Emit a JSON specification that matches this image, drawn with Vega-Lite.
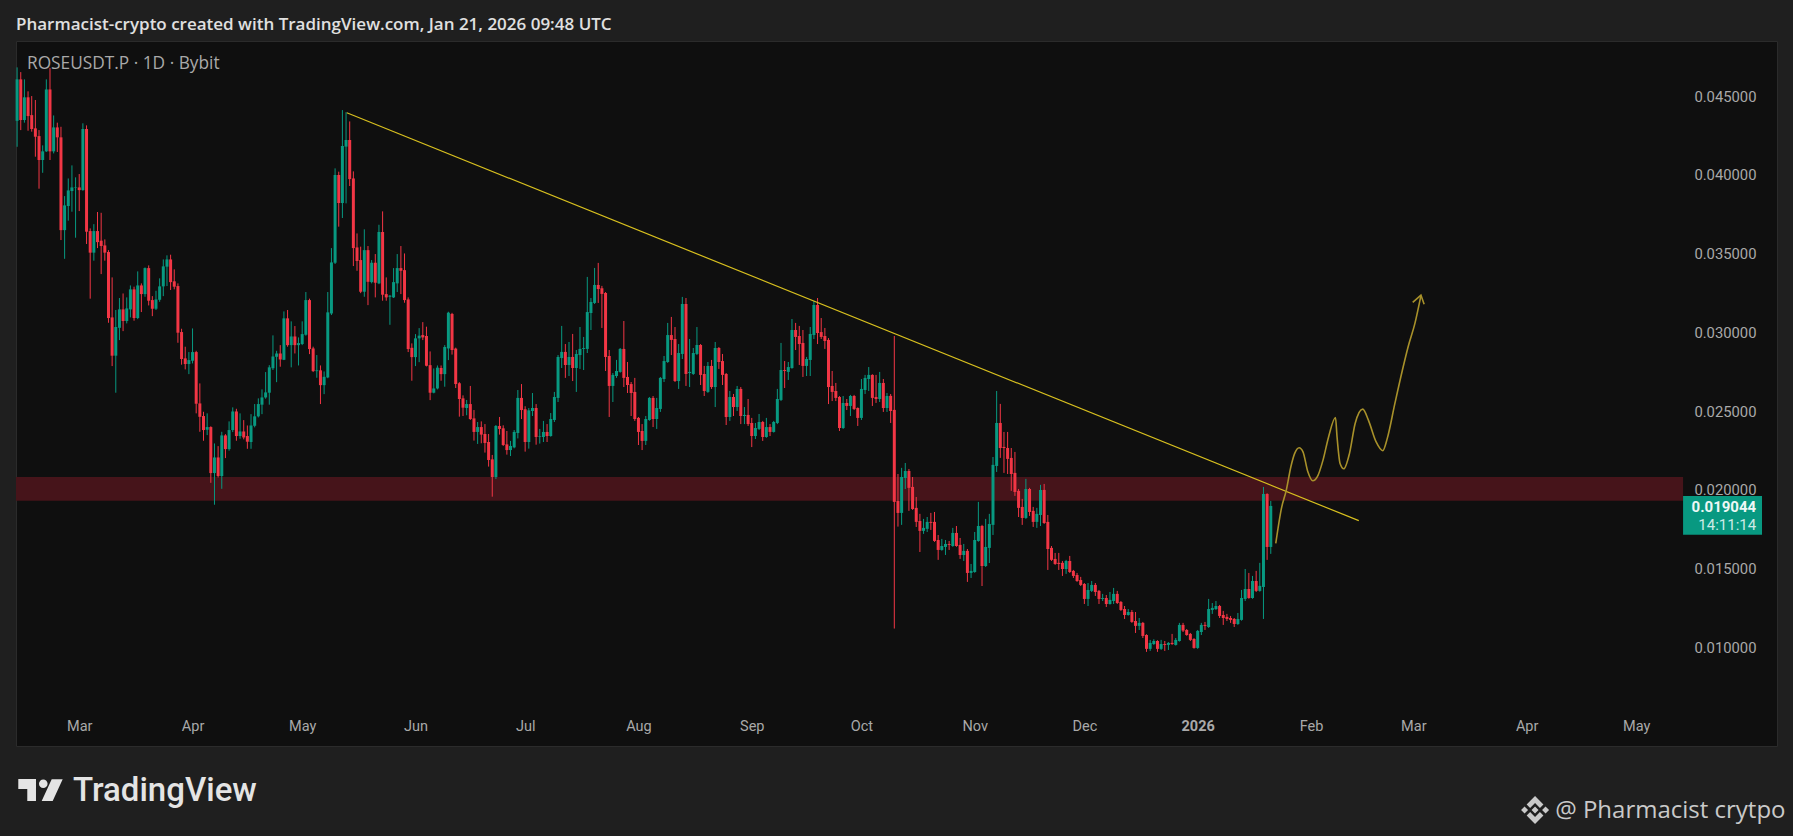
{"$schema":"https://vega.github.io/schema/vega-lite/v6.json","autosize":{"type":"none"},"padding":{"left":16,"top":41,"right":16,"bottom":90},"width":1761,"height":705,"background":"#1f1f1f","view":{"fill":"#0f0f0f","stroke":"#2b2b2b","strokeWidth":1},"title":{"text":"Pharmacist-crypto created with TradingView.com, Jan 21, 2026 09:48 UTC","anchor":"start","frame":"group","font":"Open Sans","fontSize":17,"fontWeight":600,"color":"#e0e0e0","offset":-6,"baseline":"alphabetic"},"datasets":{"candles":[
{"d":"2025-02-12","o":0.04349,"h":0.04688,"l":0.04184,"c":0.04612},
{"d":"2025-02-13","o":0.04612,"h":0.04658,"l":0.0429,"c":0.04354},
{"d":"2025-02-14","o":0.04354,"h":0.04612,"l":0.04337,"c":0.04498},
{"d":"2025-02-15","o":0.04498,"h":0.04536,"l":0.04286,"c":0.04379},
{"d":"2025-02-16","o":0.04385,"h":0.04506,"l":0.0428,"c":0.04297},
{"d":"2025-02-17","o":0.04301,"h":0.04481,"l":0.04121,"c":0.04248},
{"d":"2025-02-18","o":0.04252,"h":0.0429,"l":0.03918,"c":0.041},
{"d":"2025-02-19","o":0.041,"h":0.04193,"l":0.04019,"c":0.04155},
{"d":"2025-02-20","o":0.04155,"h":0.04612,"l":0.04151,"c":0.04548},
{"d":"2025-02-21","o":0.04548,"h":0.04684,"l":0.041,"c":0.04155},
{"d":"2025-02-22","o":0.04155,"h":0.04383,"l":0.04142,"c":0.04307},
{"d":"2025-02-23","o":0.04307,"h":0.04337,"l":0.04151,"c":0.04244},
{"d":"2025-02-24","o":0.04244,"h":0.04311,"l":0.03592,"c":0.03655},
{"d":"2025-02-25","o":0.03655,"h":0.03871,"l":0.03473,"c":0.03812},
{"d":"2025-02-26","o":0.03808,"h":0.03983,"l":0.03715,"c":0.03907},
{"d":"2025-02-27","o":0.03903,"h":0.04066,"l":0.03772,"c":0.03926},
{"d":"2025-02-28","o":0.03923,"h":0.0399,"l":0.03607,"c":0.03926},
{"d":"2025-03-01","o":0.03926,"h":0.04011,"l":0.03776,"c":0.03909},
{"d":"2025-03-02","o":0.03909,"h":0.04333,"l":0.03905,"c":0.04297},
{"d":"2025-03-03","o":0.04297,"h":0.0432,"l":0.03567,"c":0.03645},
{"d":"2025-03-04","o":0.03649,"h":0.03666,"l":0.0322,"c":0.03512},
{"d":"2025-03-05","o":0.03512,"h":0.03693,"l":0.03461,"c":0.03649},
{"d":"2025-03-06","o":0.03649,"h":0.0377,"l":0.03541,"c":0.03579},
{"d":"2025-03-07","o":0.03588,"h":0.03765,"l":0.03376,"c":0.03554},
{"d":"2025-03-08","o":0.03558,"h":0.03596,"l":0.03461,"c":0.03512},
{"d":"2025-03-09","o":0.03516,"h":0.03528,"l":0.03067,"c":0.03097},
{"d":"2025-03-10","o":0.03101,"h":0.03355,"l":0.02792,"c":0.02858},
{"d":"2025-03-11","o":0.02858,"h":0.03148,"l":0.02623,"c":0.0304},
{"d":"2025-03-12","o":0.03035,"h":0.03224,"l":0.02957,"c":0.03152},
{"d":"2025-03-13","o":0.03152,"h":0.03253,"l":0.03014,"c":0.03078},
{"d":"2025-03-14","o":0.03078,"h":0.03228,"l":0.03063,"c":0.03158},
{"d":"2025-03-15","o":0.03152,"h":0.03304,"l":0.03101,"c":0.03279},
{"d":"2025-03-16","o":0.03279,"h":0.03296,"l":0.0308,"c":0.03097},
{"d":"2025-03-17","o":0.03097,"h":0.03393,"l":0.0309,"c":0.03304},
{"d":"2025-03-18","o":0.03304,"h":0.03317,"l":0.03135,"c":0.03249},
{"d":"2025-03-19","o":0.03249,"h":0.03418,"l":0.03232,"c":0.03414},
{"d":"2025-03-20","o":0.03414,"h":0.03431,"l":0.03177,"c":0.03207},
{"d":"2025-03-21","o":0.03211,"h":0.03236,"l":0.03109,"c":0.03156},
{"d":"2025-03-22","o":0.03156,"h":0.0327,"l":0.03148,"c":0.03215},
{"d":"2025-03-23","o":0.03213,"h":0.03349,"l":0.032,"c":0.03298},
{"d":"2025-03-24","o":0.03298,"h":0.03469,"l":0.03236,"c":0.03425},
{"d":"2025-03-25","o":0.03423,"h":0.03495,"l":0.033,"c":0.03469},
{"d":"2025-03-26","o":0.03469,"h":0.03499,"l":0.03275,"c":0.03325},
{"d":"2025-03-27","o":0.0333,"h":0.03406,"l":0.03279,"c":0.03296},
{"d":"2025-03-28","o":0.033,"h":0.03317,"l":0.0294,"c":0.03004},
{"d":"2025-03-29","o":0.03008,"h":0.03029,"l":0.02801,"c":0.02837},
{"d":"2025-03-30","o":0.02841,"h":0.02915,"l":0.02771,"c":0.02805},
{"d":"2025-03-31","o":0.02805,"h":0.02881,"l":0.02741,"c":0.0283},
{"d":"2025-04-01","o":0.02826,"h":0.03031,"l":0.02809,"c":0.02881},
{"d":"2025-04-02","o":0.02881,"h":0.02889,"l":0.02492,"c":0.02553},
{"d":"2025-04-03","o":0.02555,"h":0.02682,"l":0.02375,"c":0.0247},
{"d":"2025-04-04","o":0.02475,"h":0.02502,"l":0.02318,"c":0.02386},
{"d":"2025-04-05","o":0.02388,"h":0.02492,"l":0.02354,"c":0.02405},
{"d":"2025-04-06","o":0.02405,"h":0.0241,"l":0.02051,"c":0.02113},
{"d":"2025-04-07","o":0.02113,"h":0.02301,"l":0.01912,"c":0.02212},
{"d":"2025-04-08","o":0.02212,"h":0.02284,"l":0.02085,"c":0.02094},
{"d":"2025-04-09","o":0.02094,"h":0.02375,"l":0.02013,"c":0.02352},
{"d":"2025-04-10","o":0.02352,"h":0.0236,"l":0.02208,"c":0.02265},
{"d":"2025-04-11","o":0.02265,"h":0.02441,"l":0.02255,"c":0.02386},
{"d":"2025-04-12","o":0.02386,"h":0.0253,"l":0.02373,"c":0.02504},
{"d":"2025-04-13","o":0.02504,"h":0.02521,"l":0.02318,"c":0.02348},
{"d":"2025-04-14","o":0.02348,"h":0.02492,"l":0.02331,"c":0.02377},
{"d":"2025-04-15","o":0.02377,"h":0.02449,"l":0.02327,"c":0.02339},
{"d":"2025-04-16","o":0.02348,"h":0.02415,"l":0.02267,"c":0.02312},
{"d":"2025-04-17","o":0.0231,"h":0.02487,"l":0.02267,"c":0.02415},
{"d":"2025-04-18","o":0.02413,"h":0.02551,"l":0.02403,"c":0.02473},
{"d":"2025-04-19","o":0.02473,"h":0.02587,"l":0.02466,"c":0.02551},
{"d":"2025-04-20","o":0.02547,"h":0.02644,"l":0.02487,"c":0.02593},
{"d":"2025-04-21","o":0.02593,"h":0.02754,"l":0.02585,"c":0.02625},
{"d":"2025-04-22","o":0.02623,"h":0.02798,"l":0.02547,"c":0.02784},
{"d":"2025-04-23","o":0.02779,"h":0.02987,"l":0.02767,"c":0.02853},
{"d":"2025-04-24","o":0.02851,"h":0.02889,"l":0.0269,"c":0.02872},
{"d":"2025-04-25","o":0.02872,"h":0.02925,"l":0.02788,"c":0.02834},
{"d":"2025-04-26","o":0.02832,"h":0.03139,"l":0.0283,"c":0.03095},
{"d":"2025-04-27","o":0.03095,"h":0.03148,"l":0.02915,"c":0.02925},
{"d":"2025-04-28","o":0.02925,"h":0.03076,"l":0.02784,"c":0.0298},
{"d":"2025-04-29","o":0.0298,"h":0.03046,"l":0.02872,"c":0.02925},
{"d":"2025-04-30","o":0.02925,"h":0.02974,"l":0.02796,"c":0.02938},
{"d":"2025-05-01","o":0.02932,"h":0.03076,"l":0.02925,"c":0.02995},
{"d":"2025-05-02","o":0.02991,"h":0.03262,"l":0.02985,"c":0.03211},
{"d":"2025-05-03","o":0.03211,"h":0.0322,"l":0.02868,"c":0.029},
{"d":"2025-05-04","o":0.02904,"h":0.02915,"l":0.02754,"c":0.0276},
{"d":"2025-05-05","o":0.0276,"h":0.02862,"l":0.02718,"c":0.02765},
{"d":"2025-05-06","o":0.02765,"h":0.02796,"l":0.02551,"c":0.02671},
{"d":"2025-05-07","o":0.02671,"h":0.02758,"l":0.02614,"c":0.02724},
{"d":"2025-05-08","o":0.0272,"h":0.03262,"l":0.02715,"c":0.03133},
{"d":"2025-05-09","o":0.03126,"h":0.03541,"l":0.03116,"c":0.0345},
{"d":"2025-05-10","o":0.03448,"h":0.04047,"l":0.0344,"c":0.04005},
{"d":"2025-05-11","o":0.04005,"h":0.04026,"l":0.03677,"c":0.03827},
{"d":"2025-05-12","o":0.03827,"h":0.04417,"l":0.03732,"c":0.04189},
{"d":"2025-05-13","o":0.04185,"h":0.04404,"l":0.03825,"c":0.04227},
{"d":"2025-05-14","o":0.04227,"h":0.04345,"l":0.03935,"c":0.03979},
{"d":"2025-05-15","o":0.03983,"h":0.04028,"l":0.03427,"c":0.03541},
{"d":"2025-05-16","o":0.03545,"h":0.03634,"l":0.03397,"c":0.03459},
{"d":"2025-05-17","o":0.03465,"h":0.0355,"l":0.03255,"c":0.03264},
{"d":"2025-05-18","o":0.03264,"h":0.0366,"l":0.03232,"c":0.03528},
{"d":"2025-05-19","o":0.03528,"h":0.03554,"l":0.03179,"c":0.03327},
{"d":"2025-05-20","o":0.03325,"h":0.03465,"l":0.03317,"c":0.03448},
{"d":"2025-05-21","o":0.03448,"h":0.03503,"l":0.03228,"c":0.03321},
{"d":"2025-05-22","o":0.03317,"h":0.03689,"l":0.03312,"c":0.03643},
{"d":"2025-05-23","o":0.03643,"h":0.03774,"l":0.03207,"c":0.03245},
{"d":"2025-05-24","o":0.03249,"h":0.03355,"l":0.03207,"c":0.03228},
{"d":"2025-05-25","o":0.03232,"h":0.03243,"l":0.03054,"c":0.03239},
{"d":"2025-05-26","o":0.03228,"h":0.03414,"l":0.03224,"c":0.03325},
{"d":"2025-05-27","o":0.03317,"h":0.03503,"l":0.03262,"c":0.03414},
{"d":"2025-05-28","o":0.03414,"h":0.03554,"l":0.03249,"c":0.03397},
{"d":"2025-05-29","o":0.03401,"h":0.03507,"l":0.03194,"c":0.03211},
{"d":"2025-05-30","o":0.03215,"h":0.03228,"l":0.02881,"c":0.029},
{"d":"2025-05-31","o":0.02908,"h":0.02936,"l":0.02699,"c":0.02849},
{"d":"2025-06-01","o":0.02849,"h":0.02995,"l":0.02792,"c":0.02968},
{"d":"2025-06-02","o":0.02968,"h":0.03033,"l":0.02817,"c":0.02985},
{"d":"2025-06-03","o":0.02989,"h":0.03071,"l":0.02957,"c":0.02974},
{"d":"2025-06-04","o":0.02983,"h":0.03042,"l":0.0279,"c":0.02794},
{"d":"2025-06-05","o":0.02798,"h":0.02885,"l":0.02576,"c":0.02623},
{"d":"2025-06-06","o":0.02623,"h":0.02777,"l":0.02619,"c":0.0265},
{"d":"2025-06-07","o":0.0265,"h":0.02796,"l":0.02644,"c":0.02782},
{"d":"2025-06-08","o":0.0278,"h":0.02796,"l":0.02699,"c":0.02741},
{"d":"2025-06-09","o":0.02741,"h":0.02925,"l":0.02661,"c":0.02913},
{"d":"2025-06-10","o":0.02904,"h":0.03137,"l":0.0283,"c":0.03131},
{"d":"2025-06-11","o":0.03123,"h":0.0313,"l":0.02865,"c":0.02894},
{"d":"2025-06-12","o":0.02903,"h":0.02909,"l":0.02653,"c":0.02678},
{"d":"2025-06-13","o":0.02683,"h":0.0269,"l":0.02471,"c":0.02583},
{"d":"2025-06-14","o":0.02587,"h":0.02606,"l":0.02475,"c":0.02528},
{"d":"2025-06-15","o":0.02526,"h":0.02577,"l":0.0248,"c":0.02551},
{"d":"2025-06-16","o":0.02551,"h":0.02666,"l":0.0245,"c":0.02456},
{"d":"2025-06-17","o":0.0246,"h":0.02513,"l":0.02319,"c":0.02374},
{"d":"2025-06-18","o":0.02374,"h":0.02437,"l":0.02298,"c":0.02405},
{"d":"2025-06-19","o":0.02405,"h":0.02441,"l":0.02302,"c":0.02357},
{"d":"2025-06-20","o":0.02361,"h":0.02424,"l":0.02243,"c":0.02304},
{"d":"2025-06-21","o":0.0231,"h":0.02361,"l":0.02154,"c":0.02196},
{"d":"2025-06-22","o":0.022,"h":0.02228,"l":0.01963,"c":0.02088},
{"d":"2025-06-23","o":0.02088,"h":0.02418,"l":0.02075,"c":0.02412},
{"d":"2025-06-24","o":0.02412,"h":0.02469,"l":0.02357,"c":0.02393},
{"d":"2025-06-25","o":0.02397,"h":0.02416,"l":0.02285,"c":0.02291},
{"d":"2025-06-26","o":0.02295,"h":0.0238,"l":0.0223,"c":0.02259},
{"d":"2025-06-27","o":0.02259,"h":0.02317,"l":0.02221,"c":0.02285},
{"d":"2025-06-28","o":0.02276,"h":0.02386,"l":0.0227,"c":0.02374},
{"d":"2025-06-29","o":0.02367,"h":0.0264,"l":0.02333,"c":0.0259},
{"d":"2025-06-30","o":0.0259,"h":0.02678,"l":0.02456,"c":0.02513},
{"d":"2025-07-01","o":0.02518,"h":0.02537,"l":0.02249,"c":0.0231},
{"d":"2025-07-02","o":0.0231,"h":0.02526,"l":0.02268,"c":0.02511},
{"d":"2025-07-03","o":0.02507,"h":0.02621,"l":0.02475,"c":0.02526},
{"d":"2025-07-04","o":0.02526,"h":0.02551,"l":0.02293,"c":0.02342},
{"d":"2025-07-05","o":0.02344,"h":0.02393,"l":0.023,"c":0.02348},
{"d":"2025-07-06","o":0.02342,"h":0.02444,"l":0.0231,"c":0.02374},
{"d":"2025-07-07","o":0.02374,"h":0.02424,"l":0.0231,"c":0.02348},
{"d":"2025-07-08","o":0.02348,"h":0.02494,"l":0.02344,"c":0.02456},
{"d":"2025-07-09","o":0.0245,"h":0.02628,"l":0.02437,"c":0.02596},
{"d":"2025-07-10","o":0.0259,"h":0.02862,"l":0.02564,"c":0.0285},
{"d":"2025-07-11","o":0.02843,"h":0.03047,"l":0.0278,"c":0.02882},
{"d":"2025-07-12","o":0.02882,"h":0.02932,"l":0.02717,"c":0.02799},
{"d":"2025-07-13","o":0.02799,"h":0.02945,"l":0.02729,"c":0.0285},
{"d":"2025-07-14","o":0.0285,"h":0.02996,"l":0.02697,"c":0.0278},
{"d":"2025-07-15","o":0.0278,"h":0.02894,"l":0.02628,"c":0.02869},
{"d":"2025-07-16","o":0.02862,"h":0.0304,"l":0.02774,"c":0.02901},
{"d":"2025-07-17","o":0.02901,"h":0.02977,"l":0.02767,"c":0.02907},
{"d":"2025-07-18","o":0.02901,"h":0.03358,"l":0.02875,"c":0.03135},
{"d":"2025-07-19","o":0.03129,"h":0.03224,"l":0.03021,"c":0.03199},
{"d":"2025-07-20","o":0.03193,"h":0.03415,"l":0.03186,"c":0.03307},
{"d":"2025-07-21","o":0.03307,"h":0.03447,"l":0.03193,"c":0.03281},
{"d":"2025-07-22","o":0.03286,"h":0.03301,"l":0.03034,"c":0.0325},
{"d":"2025-07-23","o":0.03256,"h":0.03262,"l":0.02761,"c":0.0285},
{"d":"2025-07-24","o":0.02856,"h":0.02894,"l":0.02469,"c":0.02666},
{"d":"2025-07-25","o":0.02666,"h":0.02748,"l":0.02564,"c":0.02736},
{"d":"2025-07-26","o":0.02729,"h":0.02831,"l":0.02717,"c":0.02761},
{"d":"2025-07-27","o":0.02755,"h":0.02907,"l":0.0275,"c":0.02901},
{"d":"2025-07-28","o":0.02901,"h":0.03078,"l":0.02659,"c":0.02717},
{"d":"2025-07-29","o":0.02723,"h":0.02818,"l":0.02621,"c":0.02672},
{"d":"2025-07-30","o":0.02678,"h":0.02691,"l":0.02475,"c":0.02621},
{"d":"2025-07-31","o":0.02628,"h":0.02717,"l":0.02444,"c":0.02456},
{"d":"2025-08-01","o":0.02463,"h":0.02469,"l":0.02291,"c":0.02374},
{"d":"2025-08-02","o":0.0238,"h":0.02424,"l":0.02259,"c":0.02317},
{"d":"2025-08-03","o":0.02317,"h":0.02475,"l":0.02291,"c":0.02456},
{"d":"2025-08-04","o":0.0245,"h":0.02596,"l":0.02445,"c":0.0259},
{"d":"2025-08-05","o":0.0259,"h":0.02602,"l":0.02405,"c":0.02456},
{"d":"2025-08-06","o":0.02456,"h":0.0259,"l":0.02393,"c":0.02526},
{"d":"2025-08-07","o":0.0252,"h":0.02723,"l":0.02501,"c":0.02717},
{"d":"2025-08-08","o":0.0271,"h":0.02856,"l":0.02691,"c":0.02824},
{"d":"2025-08-09","o":0.02818,"h":0.03066,"l":0.02812,"c":0.02989},
{"d":"2025-08-10","o":0.02989,"h":0.03104,"l":0.02862,"c":0.02958},
{"d":"2025-08-11","o":0.02964,"h":0.0304,"l":0.02691,"c":0.02697},
{"d":"2025-08-12","o":0.02697,"h":0.02932,"l":0.02647,"c":0.02875},
{"d":"2025-08-13","o":0.02869,"h":0.03231,"l":0.02837,"c":0.03186},
{"d":"2025-08-14","o":0.03186,"h":0.03224,"l":0.02666,"c":0.02742},
{"d":"2025-08-15","o":0.02748,"h":0.02964,"l":0.02659,"c":0.02755},
{"d":"2025-08-16","o":0.02742,"h":0.02907,"l":0.02736,"c":0.02875},
{"d":"2025-08-17","o":0.02869,"h":0.0304,"l":0.02862,"c":0.02926},
{"d":"2025-08-18","o":0.02926,"h":0.02932,"l":0.02672,"c":0.02736},
{"d":"2025-08-19","o":0.02742,"h":0.02793,"l":0.02602,"c":0.02634},
{"d":"2025-08-20","o":0.02628,"h":0.02818,"l":0.02622,"c":0.02793},
{"d":"2025-08-21","o":0.02793,"h":0.02831,"l":0.02647,"c":0.02659},
{"d":"2025-08-22","o":0.02659,"h":0.02945,"l":0.02532,"c":0.02907},
{"d":"2025-08-23","o":0.02907,"h":0.02913,"l":0.02774,"c":0.02818},
{"d":"2025-08-24","o":0.02824,"h":0.02869,"l":0.02672,"c":0.02736},
{"d":"2025-08-25","o":0.02742,"h":0.02748,"l":0.02418,"c":0.02469},
{"d":"2025-08-26","o":0.02469,"h":0.02634,"l":0.02444,"c":0.02596},
{"d":"2025-08-27","o":0.02596,"h":0.02615,"l":0.02475,"c":0.02532},
{"d":"2025-08-28","o":0.02532,"h":0.02666,"l":0.02507,"c":0.02647},
{"d":"2025-08-29","o":0.02647,"h":0.02659,"l":0.02424,"c":0.02475},
{"d":"2025-08-30","o":0.02475,"h":0.02532,"l":0.02424,"c":0.02482},
{"d":"2025-08-31","o":0.02482,"h":0.02583,"l":0.02412,"c":0.02424},
{"d":"2025-09-01","o":0.02431,"h":0.02463,"l":0.02278,"c":0.02348},
{"d":"2025-09-02","o":0.02348,"h":0.02431,"l":0.02329,"c":0.02399},
{"d":"2025-09-03","o":0.02393,"h":0.02488,"l":0.02386,"c":0.02437},
{"d":"2025-09-04","o":0.02437,"h":0.02444,"l":0.02317,"c":0.02342},
{"d":"2025-09-05","o":0.02342,"h":0.02463,"l":0.02337,"c":0.02405},
{"d":"2025-09-06","o":0.02405,"h":0.02424,"l":0.02348,"c":0.02374},
{"d":"2025-09-07","o":0.02374,"h":0.02444,"l":0.0237,"c":0.02437},
{"d":"2025-09-08","o":0.02431,"h":0.02647,"l":0.02424,"c":0.02583},
{"d":"2025-09-09","o":0.02577,"h":0.02939,"l":0.0257,"c":0.02767},
{"d":"2025-09-10","o":0.02767,"h":0.02824,"l":0.02653,"c":0.02761},
{"d":"2025-09-11","o":0.02755,"h":0.02818,"l":0.02704,"c":0.02786},
{"d":"2025-09-12","o":0.0278,"h":0.03091,"l":0.02775,"c":0.03021},
{"d":"2025-09-13","o":0.03021,"h":0.03066,"l":0.02894,"c":0.02977},
{"d":"2025-09-14","o":0.02983,"h":0.03047,"l":0.02799,"c":0.02932},
{"d":"2025-09-15","o":0.02939,"h":0.03021,"l":0.02723,"c":0.02793},
{"d":"2025-09-16","o":0.02793,"h":0.0285,"l":0.02729,"c":0.02837},
{"d":"2025-09-17","o":0.02831,"h":0.0304,"l":0.02729,"c":0.02996},
{"d":"2025-09-18","o":0.02989,"h":0.03205,"l":0.02964,"c":0.0318},
{"d":"2025-09-19","o":0.0318,"h":0.03224,"l":0.02932,"c":0.03002},
{"d":"2025-09-20","o":0.03008,"h":0.03097,"l":0.02964,"c":0.02977},
{"d":"2025-09-21","o":0.02983,"h":0.03034,"l":0.02901,"c":0.02951},
{"d":"2025-09-22","o":0.02958,"h":0.0297,"l":0.02551,"c":0.02659},
{"d":"2025-09-23","o":0.02666,"h":0.02761,"l":0.0257,"c":0.02628},
{"d":"2025-09-24","o":0.02634,"h":0.02685,"l":0.0257,"c":0.0259},
{"d":"2025-09-25","o":0.02596,"h":0.02602,"l":0.0238,"c":0.02399},
{"d":"2025-09-26","o":0.02399,"h":0.02602,"l":0.02393,"c":0.02558},
{"d":"2025-09-27","o":0.02558,"h":0.02583,"l":0.02513,"c":0.02539},
{"d":"2025-09-28","o":0.02539,"h":0.02609,"l":0.02475,"c":0.02602},
{"d":"2025-09-29","o":0.02602,"h":0.02609,"l":0.02513,"c":0.0252},
{"d":"2025-09-30","o":0.02526,"h":0.0253,"l":0.02412,"c":0.02463},
{"d":"2025-10-01","o":0.02463,"h":0.0271,"l":0.0245,"c":0.02647},
{"d":"2025-10-02","o":0.0264,"h":0.02736,"l":0.02615,"c":0.02717},
{"d":"2025-10-03","o":0.0271,"h":0.02786,"l":0.02634,"c":0.02736},
{"d":"2025-10-04","o":0.02736,"h":0.0274,"l":0.02539,"c":0.0259},
{"d":"2025-10-05","o":0.02596,"h":0.02736,"l":0.02558,"c":0.02583},
{"d":"2025-10-06","o":0.02583,"h":0.02755,"l":0.02564,"c":0.02685},
{"d":"2025-10-07","o":0.02685,"h":0.0271,"l":0.02501,"c":0.02526},
{"d":"2025-10-08","o":0.02526,"h":0.02621,"l":0.02501,"c":0.02602},
{"d":"2025-10-09","o":0.02603,"h":0.02615,"l":0.02431,"c":0.02507},
{"d":"2025-10-10","o":0.02514,"h":0.02983,"l":0.01126,"c":0.0193},
{"d":"2025-10-11","o":0.01936,"h":0.02107,"l":0.01773,"c":0.0186},
{"d":"2025-10-12","o":0.0186,"h":0.02146,"l":0.01784,"c":0.02088},
{"d":"2025-10-13","o":0.02082,"h":0.02177,"l":0.02012,"c":0.02126},
{"d":"2025-10-14","o":0.02126,"h":0.02139,"l":0.01873,"c":0.02019},
{"d":"2025-10-15","o":0.02025,"h":0.02088,"l":0.01879,"c":0.01885},
{"d":"2025-10-16","o":0.01892,"h":0.01961,"l":0.01771,"c":0.01803},
{"d":"2025-10-17","o":0.01809,"h":0.01854,"l":0.01612,"c":0.01746},
{"d":"2025-10-18","o":0.01746,"h":0.01822,"l":0.01727,"c":0.01765},
{"d":"2025-10-19","o":0.01759,"h":0.01834,"l":0.01739,"c":0.01803},
{"d":"2025-10-20","o":0.01803,"h":0.0186,"l":0.01752,"c":0.01797},
{"d":"2025-10-21","o":0.01803,"h":0.01866,"l":0.01676,"c":0.01682},
{"d":"2025-10-22","o":0.01688,"h":0.0172,"l":0.01562,"c":0.01625},
{"d":"2025-10-23","o":0.01625,"h":0.01695,"l":0.0162,"c":0.0165},
{"d":"2025-10-24","o":0.01644,"h":0.01688,"l":0.01593,"c":0.01663},
{"d":"2025-10-25","o":0.01663,"h":0.01682,"l":0.01625,"c":0.01657},
{"d":"2025-10-26","o":0.0165,"h":0.01765,"l":0.01645,"c":0.01733},
{"d":"2025-10-27","o":0.01733,"h":0.01777,"l":0.01645,"c":0.0165},
{"d":"2025-10-28","o":0.01657,"h":0.01701,"l":0.01568,"c":0.01593},
{"d":"2025-10-29","o":0.01593,"h":0.01663,"l":0.01555,"c":0.01619},
{"d":"2025-10-30","o":0.01619,"h":0.01631,"l":0.01422,"c":0.01479},
{"d":"2025-10-31","o":0.01479,"h":0.01536,"l":0.01447,"c":0.01492},
{"d":"2025-11-01","o":0.01485,"h":0.01739,"l":0.0148,"c":0.01688},
{"d":"2025-11-02","o":0.01682,"h":0.0193,"l":0.01677,"c":0.01777},
{"d":"2025-11-03","o":0.01777,"h":0.01784,"l":0.01396,"c":0.01523},
{"d":"2025-11-04","o":0.01523,"h":0.01822,"l":0.01517,"c":0.01644},
{"d":"2025-11-05","o":0.01638,"h":0.01854,"l":0.01542,"c":0.0179},
{"d":"2025-11-06","o":0.01784,"h":0.02215,"l":0.0172,"c":0.02165},
{"d":"2025-11-07","o":0.02158,"h":0.02634,"l":0.0212,"c":0.02431},
{"d":"2025-11-08","o":0.02431,"h":0.02552,"l":0.02209,"c":0.02272},
{"d":"2025-11-09","o":0.02279,"h":0.02374,"l":0.02114,"c":0.02272},
{"d":"2025-11-10","o":0.02272,"h":0.02374,"l":0.02107,"c":0.02203},
{"d":"2025-11-11","o":0.02209,"h":0.02272,"l":0.02,"c":0.02107},
{"d":"2025-11-12","o":0.02114,"h":0.02247,"l":0.01968,"c":0.01993},
{"d":"2025-11-13","o":0.02,"h":0.02012,"l":0.01834,"c":0.01892},
{"d":"2025-11-14","o":0.01898,"h":0.01949,"l":0.01784,"c":0.01828},
{"d":"2025-11-15","o":0.01828,"h":0.02076,"l":0.01822,"c":0.02012},
{"d":"2025-11-16","o":0.02012,"h":0.02019,"l":0.01841,"c":0.01866},
{"d":"2025-11-17","o":0.01873,"h":0.01898,"l":0.01771,"c":0.01803},
{"d":"2025-11-18","o":0.01803,"h":0.01892,"l":0.01765,"c":0.01854},
{"d":"2025-11-19","o":0.01847,"h":0.02038,"l":0.01777,"c":0.02006},
{"d":"2025-11-20","o":0.02006,"h":0.02044,"l":0.0179,"c":0.01796},
{"d":"2025-11-21","o":0.01803,"h":0.01847,"l":0.01498,"c":0.01631},
{"d":"2025-11-22","o":0.01638,"h":0.0165,"l":0.01555,"c":0.01562},
{"d":"2025-11-23","o":0.01568,"h":0.01606,"l":0.0153,"c":0.01536},
{"d":"2025-11-24","o":0.01543,"h":0.01606,"l":0.01498,"c":0.01536},
{"d":"2025-11-25","o":0.01543,"h":0.01555,"l":0.0146,"c":0.01504},
{"d":"2025-11-26","o":0.01504,"h":0.01562,"l":0.01473,"c":0.01555},
{"d":"2025-11-27","o":0.01555,"h":0.01587,"l":0.01479,"c":0.01485},
{"d":"2025-11-28","o":0.01492,"h":0.01498,"l":0.01447,"c":0.0146},
{"d":"2025-11-29","o":0.01466,"h":0.01479,"l":0.01422,"c":0.01428},
{"d":"2025-11-30","o":0.01434,"h":0.01454,"l":0.01396,"c":0.01403},
{"d":"2025-12-01","o":0.01409,"h":0.01415,"l":0.01282,"c":0.01314},
{"d":"2025-12-02","o":0.01314,"h":0.01415,"l":0.01269,"c":0.01371},
{"d":"2025-12-03","o":0.01365,"h":0.01428,"l":0.01358,"c":0.01403},
{"d":"2025-12-04","o":0.01403,"h":0.01415,"l":0.01333,"c":0.01358},
{"d":"2025-12-05","o":0.01365,"h":0.01371,"l":0.01282,"c":0.01314},
{"d":"2025-12-06","o":0.01314,"h":0.01346,"l":0.01301,"c":0.0132},
{"d":"2025-12-07","o":0.0132,"h":0.01339,"l":0.01263,"c":0.01282},
{"d":"2025-12-08","o":0.01282,"h":0.01358,"l":0.01278,"c":0.01308},
{"d":"2025-12-09","o":0.01301,"h":0.01384,"l":0.01282,"c":0.01346},
{"d":"2025-12-10","o":0.01346,"h":0.01365,"l":0.01282,"c":0.01288},
{"d":"2025-12-11","o":0.01295,"h":0.01301,"l":0.01238,"c":0.01244},
{"d":"2025-12-12","o":0.0125,"h":0.01269,"l":0.01187,"c":0.01212},
{"d":"2025-12-13","o":0.01212,"h":0.0125,"l":0.01208,"c":0.01231},
{"d":"2025-12-14","o":0.01231,"h":0.01244,"l":0.01162,"c":0.01168},
{"d":"2025-12-15","o":0.01174,"h":0.01231,"l":0.01098,"c":0.01143},
{"d":"2025-12-16","o":0.01143,"h":0.01193,"l":0.01117,"c":0.01162},
{"d":"2025-12-17","o":0.01162,"h":0.01168,"l":0.01066,"c":0.01079},
{"d":"2025-12-18","o":0.01085,"h":0.0109,"l":0.00978,"c":0.00997},
{"d":"2025-12-19","o":0.00997,"h":0.01054,"l":0.00984,"c":0.01035},
{"d":"2025-12-20","o":0.01028,"h":0.01058,"l":0.01022,"c":0.01047},
{"d":"2025-12-21","o":0.01047,"h":0.01052,"l":0.00978,"c":0.00997},
{"d":"2025-12-22","o":0.00997,"h":0.01054,"l":0.0099,"c":0.01028},
{"d":"2025-12-23","o":0.01028,"h":0.01047,"l":0.00984,"c":0.01022},
{"d":"2025-12-24","o":0.01022,"h":0.0104,"l":0.0099,"c":0.01035},
{"d":"2025-12-25","o":0.01035,"h":0.01092,"l":0.01022,"c":0.01028},
{"d":"2025-12-26","o":0.01022,"h":0.01066,"l":0.01018,"c":0.01054},
{"d":"2025-12-27","o":0.01047,"h":0.01162,"l":0.01043,"c":0.01149},
{"d":"2025-12-28","o":0.01149,"h":0.01162,"l":0.01104,"c":0.01113},
{"d":"2025-12-29","o":0.01117,"h":0.01123,"l":0.0108,"c":0.01085},
{"d":"2025-12-30","o":0.01092,"h":0.01098,"l":0.01047,"c":0.01054},
{"d":"2025-12-31","o":0.0106,"h":0.01065,"l":0.00998,"c":0.01003},
{"d":"2026-01-01","o":0.01003,"h":0.01117,"l":0.00997,"c":0.01111},
{"d":"2026-01-02","o":0.01104,"h":0.01162,"l":0.01085,"c":0.01149},
{"d":"2026-01-03","o":0.01149,"h":0.01168,"l":0.01117,"c":0.01143},
{"d":"2026-01-04","o":0.01136,"h":0.01314,"l":0.0113,"c":0.0125},
{"d":"2026-01-05","o":0.01244,"h":0.01288,"l":0.01219,"c":0.01257},
{"d":"2026-01-06","o":0.0125,"h":0.01301,"l":0.01244,"c":0.01269},
{"d":"2026-01-07","o":0.01269,"h":0.01276,"l":0.01193,"c":0.01206},
{"d":"2026-01-08","o":0.01212,"h":0.01238,"l":0.01149,"c":0.01193},
{"d":"2026-01-09","o":0.012,"h":0.01219,"l":0.01174,"c":0.01187},
{"d":"2026-01-10","o":0.01193,"h":0.01206,"l":0.01162,"c":0.01181},
{"d":"2026-01-11","o":0.01187,"h":0.01193,"l":0.01136,"c":0.01155},
{"d":"2026-01-12","o":0.01155,"h":0.01225,"l":0.01149,"c":0.01187},
{"d":"2026-01-13","o":0.01181,"h":0.01371,"l":0.01176,"c":0.0132},
{"d":"2026-01-14","o":0.01314,"h":0.01504,"l":0.01301,"c":0.01377},
{"d":"2026-01-15","o":0.01377,"h":0.01479,"l":0.01315,"c":0.0132},
{"d":"2026-01-16","o":0.0132,"h":0.0146,"l":0.01315,"c":0.01428},
{"d":"2026-01-17","o":0.01428,"h":0.01492,"l":0.01358,"c":0.01365},
{"d":"2026-01-18","o":0.01365,"h":0.01543,"l":0.0136,"c":0.01397},
{"d":"2026-01-19","o":0.0139,"h":0.02025,"l":0.01187,"c":0.0198},
{"d":"2026-01-20","o":0.0198,"h":0.01985,"l":0.01562,"c":0.01644},
{"d":"2026-01-21","o":0.01644,"h":0.01936,"l":0.016,"c":0.019044}
],"projection":[
{"t":"2026-01-22T08:40:00Z","p":0.01666},{"t":"2026-01-23T22:00:00Z","p":0.01889},{"t":"2026-01-25T06:00:00Z","p":0.02005},{"t":"2026-01-26T12:00:00Z","p":0.02153},{"t":"2026-01-27T13:00:00Z","p":0.02238},{"t":"2026-01-28T18:30:00Z","p":0.02274},{"t":"2026-01-29T19:30:00Z","p":0.02248},{"t":"2026-01-31T03:30:00Z","p":0.02121},{"t":"2026-02-01T12:00:00Z","p":0.02064},{"t":"2026-02-02T18:00:00Z","p":0.0209},{"t":"2026-02-04T07:00:00Z","p":0.02195},{"t":"2026-02-05T20:00:00Z","p":0.02344},{"t":"2026-02-07T17:00:00Z","p":0.02466},{"t":"2026-02-08T03:00:00Z","p":0.02344},{"t":"2026-02-08T23:00:00Z","p":0.02174},{"t":"2026-02-09T23:30:00Z","p":0.0214},{"t":"2026-02-11T13:00:00Z","p":0.02238},{"t":"2026-02-13T02:00:00Z","p":0.02428},{"t":"2026-02-15T04:00:00Z","p":0.02519},{"t":"2026-02-16T17:00:00Z","p":0.02449},{"t":"2026-02-18T19:00:00Z","p":0.02312},{"t":"2026-02-20T15:30:00Z","p":0.02255},{"t":"2026-02-21T21:00:00Z","p":0.02333},{"t":"2026-02-23T23:00:00Z","p":0.02555},{"t":"2026-02-26T00:30:00Z","p":0.02767},{"t":"2026-02-27T14:00:00Z","p":0.02915},{"t":"2026-03-01T10:30:00Z","p":0.03063},{"t":"2026-03-03T02:00:00Z","p":0.03239}
],"arrowhead":[{"t":"2026-02-28T20:00:00Z","p":0.03196},{"t":"2026-03-03T02:00:00Z","p":0.03243},{"t":"2026-03-03T23:00:00Z","p":0.03184}],"trend":[{"t":"2025-05-13T05:00:00Z","p":0.044},{"t":"2026-02-14T02:00:00Z","p":0.01811}]},"layer":[
{"data":{"values":[{"a":1739292480000,"b":"2026-05-13T19:12:00Z","top":0.02088,"bottom":0.019375}]},"mark":{"type":"rect","fill":"#46141a"},"encoding":{"x":{"field":"a","type":"temporal","scale":{"type":"utc","nice":false,"padding":0,"domain":[1739292480000,1780920000000]},"axis":{"title":null,"grid":false,"ticks":false,"domain":false,"labelPadding":-20,"labelBaseline":"middle","labelFont":"Roboto","labelFontSize":14.5,"labelColor":"#a9a9a9","labelExpr":"utcmonth(datum.value)==0?utcFormat(datum.value,'%Y'):utcFormat(datum.value,'%b')","labelFontWeight":{"condition":{"test":"utcmonth(datum.value)==0","value":"bold"},"value":"normal"},"labelOverlap":false,"labelBound":false,"labelFlush":false,"values":[{"year":2025,"month":"mar","date":1,"utc":true},{"year":2025,"month":"apr","date":1,"utc":true},{"year":2025,"month":"may","date":1,"utc":true},{"year":2025,"month":"jun","date":1,"utc":true},{"year":2025,"month":"jul","date":1,"utc":true},{"year":2025,"month":"aug","date":1,"utc":true},{"year":2025,"month":"sep","date":1,"utc":true},{"year":2025,"month":"oct","date":1,"utc":true},{"year":2025,"month":"nov","date":1,"utc":true},{"year":2025,"month":"dec","date":1,"utc":true},{"year":2026,"month":"jan","date":1,"utc":true},{"year":2026,"month":"feb","date":1,"utc":true},{"year":2026,"month":"mar","date":1,"utc":true},{"year":2026,"month":"apr","date":1,"utc":true},{"year":2026,"month":"may","date":1,"utc":true}]}},"x2":{"field":"b"},"y":{"field":"top","type":"quantitative","scale":{"domain":[0.003805,0.048555],"nice":false,"zero":false},"axis":{"title":null,"orient":"right","grid":false,"ticks":false,"domain":false,"values":[0.01,0.015,0.02,0.025,0.03,0.035,0.04,0.045],"format":".6f","labelAlign":"right","labelPadding":-21,"labelFont":"Roboto","labelFontSize":14.8,"labelColor":"#a9a9a9"}},"y2":{"field":"bottom"}}},
{"data":{"name":"candles"},"mark":{"type":"rule","strokeWidth":1},"encoding":{"x":{"field":"d","type":"temporal","scale":{"type":"utc"}},"y":{"field":"l","type":"quantitative"},"y2":{"field":"h"},"color":{"condition":{"test":"datum.c>=datum.o","value":"#089981"},"value":"#f23645"}}},
{"data":{"name":"candles"},"mark":{"type":"bar","size":3,"orient":"vertical"},"encoding":{"x":{"field":"d","type":"temporal","scale":{"type":"utc"}},"y":{"field":"o","type":"quantitative"},"y2":{"field":"c"},"color":{"condition":{"test":"datum.c>=datum.o","value":"#089981"},"value":"#f23645"}}},
{"data":{"name":"trend"},"mark":{"type":"line","color":"#d8c01f","strokeWidth":1.2},"encoding":{"x":{"field":"t","type":"temporal","scale":{"type":"utc"}},"y":{"field":"p","type":"quantitative"}}},
{"data":{"name":"projection"},"mark":{"type":"line","color":"#a8912a","strokeWidth":1.6,"interpolate":"monotone"},"encoding":{"x":{"field":"t","type":"temporal","scale":{"type":"utc"}},"y":{"field":"p","type":"quantitative"}}},
{"data":{"name":"arrowhead"},"mark":{"type":"line","color":"#a8912a","strokeWidth":1.6},"encoding":{"x":{"field":"t","type":"temporal","scale":{"type":"utc"}},"y":{"field":"p","type":"quantitative"},"order":{"field":"t","type":"temporal"}}},
{"data":{"values":[{"a":"2026-05-13T19:12:00Z","b":"2026-06-04T09:36:00Z","top":0.019674,"bottom":0.017217}]},"mark":{"type":"rect","fill":"#089981"},"encoding":{"x":{"field":"a","type":"temporal","scale":{"type":"utc"}},"x2":{"field":"b"},"y":{"field":"top","type":"quantitative"},"y2":{"field":"bottom"}}},
{"data":{"values":[{"t":1780427520000,"p":0.018677,"label":"0.019044"}]},"mark":{"type":"text","align":"right","baseline":"alphabetic","font":"Roboto","fontSize":15,"fontWeight":"bold","color":"#eef8f6"},"encoding":{"x":{"field":"t","type":"temporal","scale":{"type":"utc"}},"y":{"field":"p","type":"quantitative"},"text":{"field":"label"}}},
{"data":{"values":[{"t":1780427520000,"p":0.017516,"label":"14:11:14"}]},"mark":{"type":"text","align":"right","baseline":"alphabetic","font":"Roboto","fontSize":15,"color":"#cdebe6"},"encoding":{"x":{"field":"t","type":"temporal","scale":{"type":"utc"}},"y":{"field":"p","type":"quantitative"},"text":{"field":"label"}}},
{"data":{"values":[{"t":1739551680000,"p":0.04678,"label":"ROSEUSDT.P · 1D · Bybit"}]},"mark":{"type":"text","align":"left","baseline":"alphabetic","font":"Open Sans","fontSize":17.3,"color":"#a9a9a9"},"encoding":{"x":{"field":"t","type":"temporal","scale":{"type":"utc"}},"y":{"field":"p","type":"quantitative"},"text":{"field":"label"}}},
{"data":{"values":[{"t":1740640320000,"p":0.000314,"label":"TradingView"}]},"mark":{"type":"text","align":"left","baseline":"alphabetic","font":"Roboto","fontSize":33,"fontWeight":500,"color":"#e4e4e4"},"encoding":{"x":{"field":"t","type":"temporal","scale":{"type":"utc"}},"y":{"field":"p","type":"quantitative"},"text":{"field":"label"}}},
{"data":{"values":[{"t":1739871360000,"p":0.001012}]},"mark":{"type":"point","filled":true,"size":1971,"opacity":1,"color":"#e4e4e4","shape":"M-1,-0.495 H-0.203 V0.495 H-0.595 V-0.045 H-1 Z M-0.068,-0.284 A0.194,0.194 0 1 1 0.32,-0.284 A0.194,0.194 0 1 1 -0.068,-0.284 Z M0.505,-0.482 L1,-0.482 L0.55,0.495 L0.054,0.495 Z"},"encoding":{"x":{"field":"t","type":"temporal","scale":{"type":"utc"}},"y":{"field":"p","type":"quantitative"}}},
{"data":{"values":[{"t":1775200320000,"p":-0.000258}]},"mark":{"type":"point","filled":true,"size":784,"opacity":1,"color":"#c9c9c9","shape":"M0,-0.25 L0.25,0 L0,0.25 L-0.25,0 Z M-1,0 L-0.75,-0.25 L-0.5,0 L-0.75,0.25 Z M1,0 L0.75,-0.25 L0.5,0 L0.75,0.25 Z M-0.6,-0.4 L0,-1 L0.6,-0.4 L0.35,-0.15 L0,-0.5 L-0.35,-0.15 Z M-0.6,0.4 L0,1 L0.6,0.4 L0.35,0.15 L0,0.5 L-0.35,0.15 Z"},"encoding":{"x":{"field":"t","type":"temporal","scale":{"type":"utc"}},"y":{"field":"p","type":"quantitative"}}},
{"data":{"values":[{"t":1775675520000,"p":-0.000746,"label":"@ Pharmacist crytpo"}]},"mark":{"type":"text","align":"left","baseline":"alphabetic","font":"Open Sans","fontSize":24,"color":"#c9c9c9"},"encoding":{"x":{"field":"t","type":"temporal","scale":{"type":"utc"}},"y":{"field":"p","type":"quantitative"},"text":{"field":"label"}}}
]}
